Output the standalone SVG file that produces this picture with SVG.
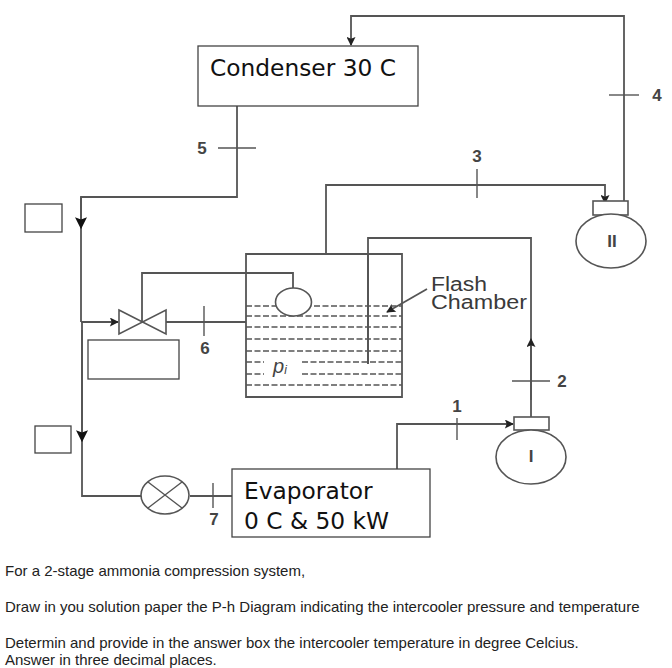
<svg xmlns="http://www.w3.org/2000/svg" width="672" height="668" viewBox="0 0 672 668">
<defs>
<marker id="ah" viewBox="0 0 10 10" refX="9" refY="5" markerWidth="11" markerHeight="9" markerUnits="userSpaceOnUse" orient="auto"><path d="M0 0L10 5L0 10L2 5Z" fill="#222"/></marker>
<marker id="ahb" viewBox="0 0 10 10" refX="9" refY="5" markerWidth="12" markerHeight="12" markerUnits="userSpaceOnUse" orient="auto"><path d="M0 0L10 5L0 10L2 5Z" fill="#111"/></marker>
</defs>
<style>
.l{fill:none;stroke:#555;stroke-width:1.8}
.t{fill:none;stroke:#555;stroke-width:1.4}
.d{fill:none;stroke:#555;stroke-width:1.5;stroke-dasharray:6 2.5}
.b{fill:#fff;stroke:#444;stroke-width:1.3}
.s{fill:#fff;stroke:#555;stroke-width:1.6}
.n{font-family:"Liberation Sans",Arial,sans-serif;font-size:17px;fill:#444;text-anchor:middle;font-weight:bold;stroke:none}
.v{font-family:"DejaVu Sans",Verdana,sans-serif;font-size:23.300px;fill:#111}
.f{font-family:"Liberation Sans",Arial,sans-serif;font-size:20px;fill:#3a3a3a}
.p{font-family:"Liberation Sans",Arial,sans-serif;font-size:15px;fill:#222}
</style>
<g id="connectors">
<path class="l" d="M624 201V16H351V45" marker-end="url(#ah)"/>
<path class="t" d="M609 95H639"/>
<path class="l" d="M237 106V197H81V322"/>
<path class="l" d="M81 197V228" marker-end="url(#ahb)"/>
<path class="l" d="M81 322H118" marker-end="url(#ah)"/>
<path class="t" d="M218 148H256"/>
<path class="l" d="M82 322V496H141"/>
<path class="l" d="M82 330V441" marker-end="url(#ahb)"/>
<path class="l" d="M142 322V273H293V288"/>
<path class="l" d="M166 322H246"/>
<path class="t" d="M204 306V336"/>
<path class="l" d="M326 254V185H605V203" marker-end="url(#ah)"/>
<path class="t" d="M477 169V198"/>
<path class="l" d="M368 364V238H531V417"/>
<path class="l" d="M531 400V339" marker-end="url(#ah)"/>
<path class="t" d="M512 381H550"/>
<path class="l" d="M397 469V424H513" marker-end="url(#ah)"/>
<path class="t" d="M457 418V440"/>
<path class="l" d="M190 496H232"/>
<path class="t" d="M213 483V508"/>
<path class="l" d="M427 289L387 312" marker-end="url(#ah)"/>
</g>
<g id="condenser"><rect class="b" x="198" y="46" width="220" height="60"/><text class="v" x="210" y="76">Condenser 30 C</text></g>
<g id="flash-chamber">
<path class="l" d="M246 254H402V397H246Z"/>
<path class="d" d="M246 306H402M246 316H402M246 327H402M246 339H402M246 351H402M246 374H264M302 374H402M246 362H264M302 362H402M246 385H402"/>
<ellipse class="s" cx="293.500" cy="302" rx="18" ry="14"/>
<path class="l" d="M368 254V364"/>
<text x="273" y="373" style="font-family:'Liberation Sans',Arial,sans-serif;font-size:20px;font-style:italic;fill:#444">p<tspan font-size="12" dy="1">i</tspan></text>
<text class="f" x="431" y="291" textLength="56" lengthAdjust="spacingAndGlyphs">Flash</text><text class="f" x="431" y="309" textLength="96" lengthAdjust="spacingAndGlyphs">Chamber</text>
</g>
<g id="expansion-valve"><path class="s" d="M119 310L166 334V310L119 334Z"/></g>
<g id="expansion-device"><ellipse class="s" cx="165" cy="495" rx="24" ry="19"/><path class="t" d="M148 482L182 508M182 482L148 508"/></g>
<g id="evaporator"><rect class="b" x="232" y="469" width="198" height="68"/><text class="v" x="244" y="499">Evaporator</text><text class="v" x="244" y="529">0 C &amp; 50 kW</text></g>
<g id="compressor-2"><rect class="s" x="593" y="201" width="35" height="14"/><ellipse class="s" cx="611" cy="241" rx="35" ry="27"/><text class="n" x="612" y="247" font-size="14">II</text></g>
<g id="compressor-1"><rect class="s" x="514" y="417" width="35" height="13"/><ellipse class="s" cx="531" cy="457" rx="35" ry="27"/><text class="n" x="531" y="462">I</text></g>
<g id="answer-box-1"><rect class="b" x="25" y="204" width="37" height="28"/></g>
<g id="answer-box-2"><rect class="b" x="88" y="340" width="91" height="39"/></g>
<g id="answer-box-3"><rect class="b" x="35" y="426" width="36" height="27"/></g>
<g id="labels">
<text class="n" x="657" y="101">4</text>
<text class="n" x="202" y="154">5</text>
<text class="n" x="477" y="162">3</text>
<text class="n" x="205" y="354">6</text>
<text class="n" x="562" y="387">2</text>
<text class="n" x="457" y="412">1</text>
<text class="n" x="214" y="525">7</text>
</g>
<g id="question">
<text class="p" x="5" y="576">For a 2-stage ammonia compression system,</text>
<text class="p" x="5" y="612">Draw in you solution paper the P-h Diagram indicating the intercooler pressure and temperature</text>
<text class="p" x="5" y="648">Determin and provide in the answer box the intercooler temperature in degree Celcius.</text>
<text class="p" x="5" y="665">Answer in three decimal places.</text>
</g>
</svg>
